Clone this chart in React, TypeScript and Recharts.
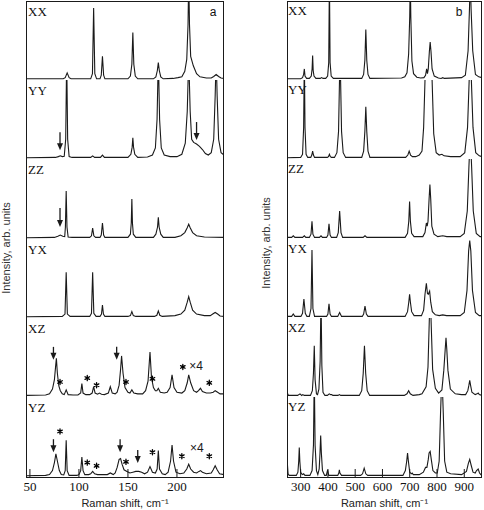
import React from 'react';
import { LineChart, Line, XAxis, YAxis, ReferenceDot } from 'recharts';

type Pt = [number, number];

// ---------- Panel a (50–250 cm-1), intensity in % of sub-plot height ----------
const aXX: Pt[] = [
  [46,1.5],[84,1.5],[86,3],[88,9],[90,3],[92,1.5],
  [112,1.5],[113.8,8],[115,91],[116.2,8],[118,1.5],
  [121.5,1.5],[122.8,6],[124,30],[125.2,6],[126.5,1.5],
  [150,1.5],[152.5,5],[154,20],[155,60],[156,20],[157.5,5],[160,1.5],
  [176,1.5],[178.5,4],[180,12],[181,22],[182,12],[183.5,4],[186,1.5],
  [196,2],[201,3],[205,4],[208,11],[210,26],[211.3,70],[212,130],[212.8,70],[214,30],[216.7,18],[220,8],[223.5,4],[230,2.5],
  [235,2.5],[237.5,4.5],[240,7],[242.5,4.5],[245,2.5],[248,2],
];
const aYY: Pt[] = [
  [46,1.5],[76,2],[79,3],[81,4],[83,3],[85,3.5],[86.5,25],[87.5,130],[88.5,25],[90,3],[93,2],
  [112,2],[114,4],[116,2],[122,2],[124,5],[126,2],
  [150,2],[153,6],[154.3,15],[155,27],[155.7,15],[157,6],[160,2],
  [170,2.5],[175,5],[178,14],[179.7,50],[181,130],[182.3,50],[184,14],[187,5],[193,3],
  [200,3],[205,6],[208.5,20],[210.5,60],[212,130],[213.5,60],[215,25],[217,21],[220,19],[223,16],[226,12],[229,7],[232,5],
  [235,8],[237.5,25],[239,80],[240,130],[241,80],[242.5,25],[245,8],[248,5],
];
const aZZ: Pt[] = [
  [46,1.5],[75,2],[78.5,3.5],[81,5],[83.5,3.5],[85.5,3],[86.2,15],[87,60],[87.8,15],[89,2.5],[93,2],
  [111,2],[112.8,4],[114,13.5],[115.2,4],[117,2],[121.5,2],[122.8,5],[124,20],[125.2,5],[126.5,2],
  [150,2],[152.5,6],[153.4,20],[154,50],[154.6,20],[155.5,6],[158,2],
  [176,2],[178.5,6],[180.2,15],[181,27],[181.8,15],[183.5,6],[186,2],
  [198,2],[204,4],[208,8],[210.5,14],[212,18.5],[213.5,14],[216,8],[220,4],[228,2.5],[248,2],
];
const aYX: Pt[] = [
  [46,1.5],[83,2],[85.8,5],[87,58],[88.2,5],[91,2],
  [111,2],[112.8,6],[114,58],[115.2,6],[117.5,2],[121.5,2],[123,5],[124,16.5],[125,5],[126.5,2],
  [150,2],[152.5,3],[154,8],[155.5,3],[158,2],[177,2],[179.5,3.5],[181,9],[182.5,3.5],[185,2],
  [198,3],[204,5],[208,10],[210.5,20],[212,27],[213.5,20],[216,10],[220,5],[228,3],
  [234,3],[236.5,5],[239,7],[241.5,5],[244,2.5],[248,2],
];
const aXZ: Pt[] = [
  [46,2],[66,2.5],[70,4],[73,10],[75,22],[76.3,40],[77,49],[78,30],[79.5,14],[81,8],[83,4],[85,3],[87,9],[89,3],[94,2.5],
  [99,2.5],[101.8,5],[103,17],[104.2,5],[107,3],[111,3],[113.5,5],[115,13],[116.5,5],[119,3.5],[121,5],[123,3.5],
  [126,3],[130,5],[132,13],[134,5],[137,4],
  [139,6],[141,15],[142.5,35],[143.5,52],[145,30],[147,12],[150,6],[152,5],[154,9],[156,5],[160,4],[165,4],
  [168,8],[170.5,20],[172.5,57],[174,25],[176,12],[178,8],[179.5,8],[181,11],[183,6],
  [187,5],[190,6],[193,12],[195,28],[197,12],[200,6],[205,5],[208,8],[210.5,18],[212,28],[214,18],[217,8],
  [220,6],[222,8],[224,11],[226,7],[230,5],[234,5],[237,6],[239,8],[241.5,6],[244,4],[248,4],
];
const aYZ: Pt[] = [
  [46,1.5],[66,2],[70,3],[73,8],[75,18],[76.5,29],[78,20],[80,8],[82,3],[84.5,2.5],[86,8],[87,46],[88,8],[90,2],
  [98,2],[100,3],[101.8,8],[103,25],[104.2,8],[106,3],[110,3],[112,4],[114,7],[116,4],[119,3],[125,3],[129,3],[132,5],[135,3],
  [137,5],[139,12],[141,22],[142.5,23],[144,16],[146,9],[149,7],[152,5],[155,6],[158,7],[161,7],[164,6],[167,4],
  [170,6],[172.5,13],[175,6],[178,5],[179.8,10],[181,33],[182.2,10],[185,4],
  [188,3],[191,6],[193.5,20],[195,40],[196.5,20],[199,6],[203,4],[207,5],[210,10],[212,16],[214,10],[217,6],
  [220,5],[222.5,7],[224,8],[226,6],[230,4],[235,5],[237,9],[239,14],[241,9],[243.5,4],[248,3],
];

// ---------- Panel b (250–965 cm-1) ----------
const bXX: Pt[] = [
  [250,1.5],[300,1.5],[307,3],[311,7],[313.6,14],[316,5],[322,2],[332,2],[339,5],[342,14],[344,31],[346,12],[349,5],[356,2],
  [372,2],[377,3],[382,2],
  [392,2],[399,5],[403,22],[405.5,130],[408,22],[412,5],[420,2],
  [524,2],[531,7],[535.5,25],[539,64],[542.5,25],[547,7],[554,2],
  [670,2.5],[682,4],[690,9],[696,33],[700,80],[702,130],[704,80],[708,24],[714,8],[726,3.5],[740,2.5],
  [752,3],[758,6],[762,14],[765,8],[768,14],[772,36],[775,48],[778,36],[782,14],[790,5],[805,2.5],[815,2],[821,3],[827,2],
  [890,3],[904,6],[914,37],[919,90],[922,130],[925,90],[931,37],[941,7],[953,4],[965,3],
];
const bYY: Pt[] = [
  [250,1.5],[300,2],[307,6],[311,40],[313.6,130],[316,40],[320,6],[326,2],[337,2],[341,5],[344,10],[347,5],[351,2],
  [398,2],[402,3],[405.5,6],[409,3],[413,2],
  [424,2],[433,8],[439,35],[442.5,100],[444.6,130],[446.5,100],[450,35],[456,8],[465,2],
  [524,2],[531,10],[535.5,35],[539,66],[542.5,35],[547,10],[554,2],
  [685,2],[693,5],[698,10],[703,5],[710,3],[722,3],[735,5],[745,10],[751,40],[756,100],[759,130],[779,130],[782,100],
  [788,32],[797,8],[808,5],[818,6],[826,4],[850,3],
  [885,3],[902,8],[912,40],[918,100],[922,130],[926,100],[932,40],[942,8],[955,4],[965,3],
];
const bZZ: Pt[] = [
  [250,2],[267,2],[273,4],[279,2],[307,2],[313.6,4],[319,2],[332,2],[338,6],[341.6,22],[345,6],[351,2],[369,2],[374.7,4],[380,2],
  [395,2],[400,5],[404,19],[408,5],[413,2],[432,2],[438,8],[443,35],[448,8],[454,2],[529,2],[536,4],[543,2],
  [683,2],[692,7],[696.5,22],[699.5,47],[702.5,22],[707,7],[716,3],
  [748,3],[756,8],[761,20],[764,16],[767,22],[771,50],[774,68],[777,50],[781,16],[789,6],[803,3],[821,4],[836,3],
  [885,3],[900,7],[911,35],[917,90],[922,130],[927,90],[933,35],[944,7],[958,3],[965,3],
];
const bYX: Pt[] = [
  [250,2],[267,2],[273,5],[279,2],[301,2],[307,6],[312,24],[317,6],[323,2],[332,2],[338,12],[341.6,86],[345,12],[351,2],
  [395,2],[400,5],[404,18],[408,5],[413,2],[436,2],[443,7],[450,2],[526,2],[531,5],[536,15],[541,5],[547,2],
  [683,2],[692,8],[696.5,20],[699.5,30],[702.5,20],[707,8],[716,3],
  [743,3],[751,10],[756,30],[761,44],[765,31],[768,30],[773,34],[777,20],[783,8],[794,4],[808,3],[821,4],[835,3],
  [885,3],[900,7],[910,35],[916,85],[920,98],[924,85],[930,35],[941,7],[955,3],[965,3],
];
const bXZ: Pt[] = [
  [250,2],[251.5,5],[255,2],[289,2],[297.6,4],[304,2],[308,3],[313,2],
  [336,2],[343,8],[347,30],[350,65],[353,22],[358,4],[362,3],[367,10],[371.5,45],[374.7,130],[377.8,40],[382,6],[389,2],
  [398,2],[405,4],[410,3],[414,3],[418,2],[437,2],[442,3],[447,2],
  [515,2],[524,8],[529.5,30],[534,65],[538.5,30],[544,8],[553,2],
  [680,2],[690,4],[696,8],[702,4],[712,2],
  [735,3],[745,4],[760,13],[767,38],[772,100],[775,130],[778,100],[784,35],[794,11],[806,5],
  [818,9],[825,34],[830,60],[833,75],[836,60],[840,34],[849,10],[867,4],[890,3],
  [905,3],[913,8],[917,15],[920,21],[923,15],[928,6],[940,3],[947,4],[951,5],[955,3],[965,2],
];
const bYZ: Pt[] = [
  [250,3],[251.5,16],[254,4],[258,2],[284,2],[290,6],[293,20],[295,37],[297,20],[300,6],[306,3],[311,4],[316,2],
  [334,2],[342,8],[347,40],[350,130],[353,40],[358,8],[363,3],[368,10],[371,30],[373.5,52],[376,30],[380,8],[388,2],
  [394,2],[399,9],[403,2],[436,2],[440,5],[442,9],[444,5],[450,2],
  [520,2],[527,4],[533,11],[539,4],[546,2],
  [675,2],[684,8],[689,20],[692,30],[695,20],[700,6],[706,4],[709,5],[713,3],
  [735,3],[750,6],[758,12],[763,12],[768,22],[771,30],[775,32],[779,22],[785,8],[794,5],
  [801,5],[808,20],[813,80],[818,130],[823,80],[828,20],[836,6],[850,4],
  [890,3],[908,7],[915,17],[920,22],[925,15],[932,6],[940,5],[945,8],[951,10],[956,5],[961,3],[965,3],
];

// ---------- axes / labels ----------
const polarizations = ['XX', 'YY', 'ZZ', 'YX', 'XZ', 'YZ'];
const aDomain: [number, number] = [46, 248];
const bDomain: [number, number] = [250, 965];
const aTicks = [50, 100, 150, 200];
const bTicks = [300, 400, 500, 600, 700, 800, 900];
const xTitle = 'Raman shift, cm\u207B\u00B9';
const yTitle = 'Intensity, arb. units';

// ---------- annotations (wavenumber, % height) ----------
const aYYArrows: Pt[] = [[80.7, 11], [220, 24]];
const aZZArrows: Pt[] = [[80.7, 15]];
const aXZArrows: Pt[] = [[74, 47], [138.5, 47]];
const aYZArrows: Pt[] = [[74, 31], [142, 31], [160, 17.5]];
const aXZStars: Pt[] = [[80.7, 19], [108.5, 24], [118, 15], [148, 19], [175, 23], [206, 38], [233, 18]];
const aYZStars: Pt[] = [[80.7, 57], [108.5, 18], [118, 14], [148, 19], [175, 31], [205, 26], [233, 26]];
const aXZScale: Pt = [212.5, 40];
const aYZScale: Pt = [213.3, 37];
const scaleText = '\u00D74';

// ---------- layout ----------
const SERIF = '"Liberation Serif", "Times New Roman", serif';
const SANS = '"Liberation Sans", Arial, sans-serif';
const INK = '#1a1a1a';
const EDGES = [1, 80, 159, 239, 318, 397, 477];
const A_LEFT = 26, A_WIDTH = 198, B_LEFT = 287, B_WIDTH = 195;
const AXIS_H = 32;
const PAD = 14;

const arrowShape = (len: number) => (p: any) => {
  const { cx, cy } = p;
  return (
    <g>
      <line x1={cx} x2={cx} y1={cy - len} y2={cy - 5} stroke={INK} strokeWidth={1.3} />
      <polygon points={`${cx - 3},${cy - 7} ${cx + 3},${cy - 7} ${cx},${cy}`} fill={INK} />
    </g>
  );
};
// asterisk peak marker
const starShape = (p: any) => {
  const { cx, cy } = p;
  const r = 2.6;
  const dx = r * 0.866, dy = r * 0.5;
  return (
    <path
      d={`M${cx},${cy - r}L${cx},${cy + r}M${cx - dx},${cy - dy}L${cx + dx},${cy + dy}M${cx - dx},${cy + dy}L${cx + dx},${cy - dy}`}
      stroke="#000" strokeWidth={1.3} strokeLinecap="round" fill="none"
    />
  );
};
const scaleShape = (p: any) => (
  <text x={p.cx} y={p.cy + 4.5} textAnchor="start" fontFamily={SANS} fontSize={12} fill={INK}>{scaleText}</text>
);

type SubProps = {
  pts: Pt[]; domain: [number, number]; left: number; width: number; top: number; height: number;
  ticks?: number[]; arrows?: Pt[]; arrowLen?: number; stars?: Pt[]; scale?: Pt;
};

function Sub({ pts, domain, left, width, top, height, ticks, arrows = [], arrowLen = 18, stars = [], scale }: SubProps) {
  const data = pts.map(([x, y]) => ({ x, y }));
  const withAxis = !!ticks;
  const h = height + (withAxis ? AXIS_H : 0);
  const w = width + 2 * PAD;
  return (
    <div style={{ position: 'absolute', left: left - PAD, top, width: w, height: h }}>
      <LineChart width={w} height={h} data={data} margin={{ top: 0, right: PAD, bottom: 0, left: PAD }}>
        <XAxis
          type="number"
          dataKey="x"
          domain={domain}
          allowDataOverflow
          hide={!withAxis}
          ticks={ticks}
          interval={0}
          height={withAxis ? AXIS_H : 0}
          axisLine={false}
          tickLine={{ stroke: INK }}
          tickSize={-8}
          tickMargin={13}
          tick={{ fontFamily: SERIF, fontSize: 13, fill: '#111' }}
          label={withAxis ? { value: xTitle, position: 'insideBottom', offset: 2, style: { fontFamily: SANS, fontSize: 11, fill: '#222' } } : undefined}
        />
        <YAxis type="number" domain={[0, 100]} allowDataOverflow hide />
        <Line type="linear" dataKey="y" stroke={INK} strokeWidth={1.1} dot={false} activeDot={false} isAnimationActive={false} />
        {arrows.map(([x, y], i) => (
          <ReferenceDot key={'ar' + i} x={x} y={y} r={0} ifOverflow="visible" shape={arrowShape(arrowLen)} />
        ))}
        {stars.map(([x, y], i) => (
          <ReferenceDot key={'st' + i} x={x} y={y} r={0} ifOverflow="visible" shape={starShape} />
        ))}
        {scale && <ReferenceDot x={scale[0]} y={scale[1]} r={0} ifOverflow="visible" shape={scaleShape} />}
      </LineChart>
    </div>
  );
}

export default function App() {
  const aSeries = [aXX, aYY, aZZ, aYX, aXZ, aYZ];
  const bSeries = [bXX, bYY, bZZ, bYX, bXZ, bYZ];
  const aAnn: Partial<SubProps>[] = [
    {}, { arrows: aYYArrows, arrowLen: 18 }, { arrows: aZZArrows, arrowLen: 19 }, {},
    { arrows: aXZArrows, arrowLen: 13, stars: aXZStars, scale: aXZScale },
    { arrows: aYZArrows, arrowLen: 13, stars: aYZStars, scale: aYZScale },
  ];
  return (
    <div style={{ position: 'absolute', left: 0, top: 0, width: 484, height: 510, background: '#fff', overflow: 'hidden' }}>
      {aSeries.map((pts, i) => (
        <Sub key={'a' + i} pts={pts} domain={aDomain} left={A_LEFT} width={A_WIDTH}
          top={EDGES[i]} height={EDGES[i + 1] - EDGES[i]} ticks={i === 5 ? aTicks : undefined} {...aAnn[i]} />
      ))}
      {bSeries.map((pts, i) => (
        <Sub key={'b' + i} pts={pts} domain={bDomain} left={B_LEFT} width={B_WIDTH}
          top={EDGES[i]} height={EDGES[i + 1] - EDGES[i]} ticks={i === 5 ? bTicks : undefined} />
      ))}
      <div style={{ position: 'absolute', left: A_LEFT, top: EDGES[0], width: A_WIDTH, height: EDGES[6] - EDGES[0] + 1, border: `1px solid ${INK}`, boxSizing: 'border-box', pointerEvents: 'none' }} />
      <div style={{ position: 'absolute', left: B_LEFT, top: EDGES[0], width: B_WIDTH, height: EDGES[6] - EDGES[0] + 1, border: `1px solid ${INK}`, boxSizing: 'border-box', pointerEvents: 'none' }} />
      <svg width={484} height={510} style={{ position: 'absolute', left: 0, top: 0, pointerEvents: 'none' }}>
        {polarizations.map((p, i) => (
          <text key={'la' + i} x={A_LEFT + 2} y={EDGES[i] + 14.5} fontFamily={SERIF} fontSize={13} fill="#111">{p}</text>
        ))}
        {polarizations.map((p, i) => (
          <text key={'lb' + i} x={B_LEFT + 1} y={EDGES[i] + 14} fontFamily={SERIF} fontSize={13} fill="#111">{p}</text>
        ))}
        <text x={213} y={15.5} textAnchor="middle" fontFamily={SANS} fontSize={12} fill="#111">a</text>
        <text x={459} y={16} textAnchor="middle" fontFamily={SANS} fontSize={12} fill="#111">b</text>
        <text transform="translate(9.5,248) rotate(-90)" textAnchor="middle" fontFamily={SANS} fontSize={11} fill="#333">{yTitle}</text>
        <text transform="translate(270,243) rotate(-90)" textAnchor="middle" fontFamily={SANS} fontSize={11} fill="#333">{yTitle}</text>
      </svg>
    </div>
  );
}
